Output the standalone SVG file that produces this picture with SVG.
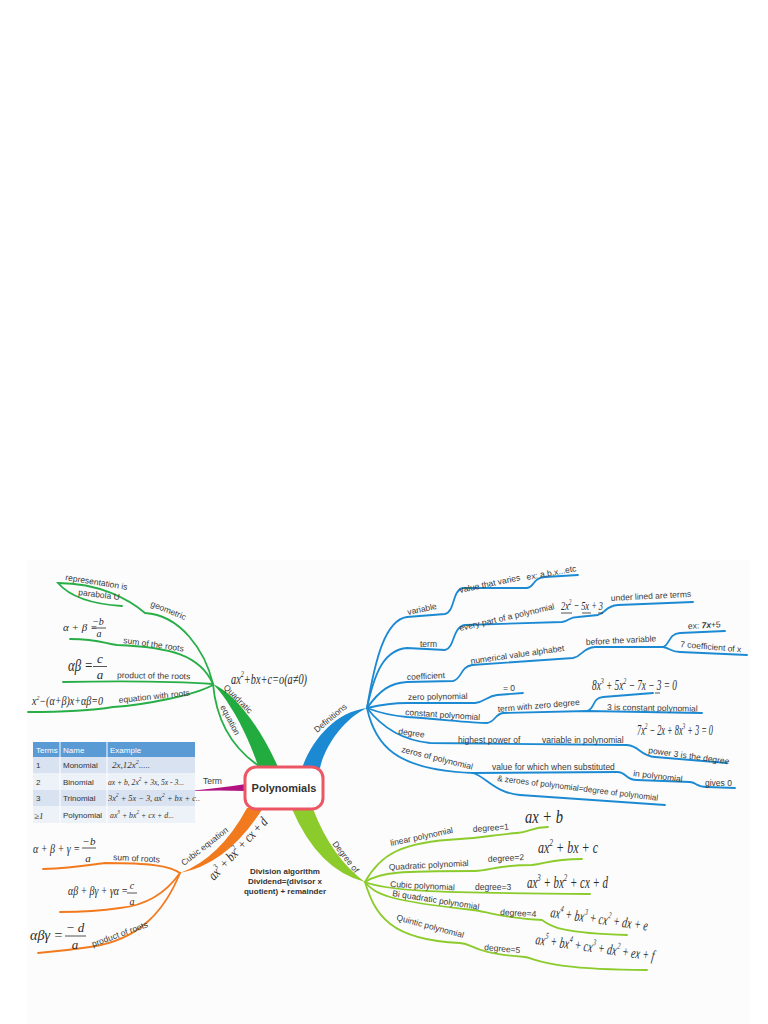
<svg xmlns="http://www.w3.org/2000/svg" width="768" height="1024" viewBox="0 0 768 1024">
<style>
.lbl{font-family:"Liberation Sans",Arial,sans-serif;font-size:8.5px;fill:#3a3a3a}
.fm{font-family:"Liberation Serif","Times New Roman",serif;font-style:italic;fill:#2a2a2a}
.tb{font-family:"Liberation Sans",Arial,sans-serif;font-size:8px;fill:#333}
.th{font-family:"Liberation Sans",Arial,sans-serif;font-size:8px;fill:#fff}
.tf{font-family:"Liberation Serif","Times New Roman",serif;font-style:italic;font-size:9px;fill:#333}
.g{stroke:#27ae47;fill:none;stroke-width:1.8;stroke-linecap:round}
.b{stroke:#1c8ad2;fill:none;stroke-width:1.8;stroke-linecap:round}
.o{stroke:#f27a1e;fill:none;stroke-width:1.8;stroke-linecap:round}
.l{stroke:#8ccb2c;fill:none;stroke-width:1.8;stroke-linecap:round}
.fl{stroke:#2a2a2a;stroke-width:0.8}
</style>
<rect x="0" y="0" width="768" height="1024" fill="#ffffff"/>
<rect x="27" y="560" width="723" height="464" fill="#fcfcfc"/>

<g id="connectors">
  <!-- main thick branches -->
  <path d="M213,684 C226,697 246,728 259,769 L278,767 C258,722 232,692 213,684 Z" fill="#22ab3f"/>
  <path class="g" d="M213,684 Q218,740 262,768"/>
  <path d="M302,768 C312,740 335,712 367,708 C345,718 325,745 320,768 Z" fill="#1c8ad2"/>
  <path d="M247,808 Q220,858 180,873 Q228,864 263,808 Z" fill="#f27a1e"/>
  <path d="M292,809 Q318,870 365,882 Q332,858 313,809 Z" fill="#8ccb2c"/>
  <path d="M246,784 Q220,788 188,791 Q220,790 246,791 Z" fill="#b2127f"/>

  <!-- green sub-branches -->
  <path class="g" d="M213,684 C205,650 180,615 145,613 C130,600 100,583 58,583 C70,597 90,604 122,606"/>
  <path class="g" d="M213,684 C200,655 170,647 117,645 C105,644 100,639 70,639"/>
  <path class="g" d="M213,684 C170,681 120,681 63,682"/>
  <path class="g" d="M213,685 C195,695 145,705 113,707 C95,710 70,712 28,712"/>

  <!-- orange sub-branches -->
  <path class="o" d="M180,873 C170,866 150,863 105,863 C95,864 75,868 43,869"/>
  <path class="o" d="M180,873 C168,890 150,905 120,908 C100,911 80,912 60,912"/>
  <path class="o" d="M180,873 C165,910 140,940 90,947 C70,950 50,952 38,953"/>

  <!-- light green sub-branches -->
  <path class="l" d="M365,882 C380,855 400,842 460,839 C480,838 500,834 517,833 C530,832 532,827 548,827"/>
  <path class="l" d="M365,882 C380,872 400,871 475,871 C490,871 495,865 532,865 C545,864 550,859 582,859"/>
  <path class="l" d="M365,882 C385,890 420,893 590,894"/>
  <path class="l" d="M365,882 C375,895 390,901 473,910 C495,913 500,918 542,920 C550,925 555,933 627,935"/>
  <path class="l" d="M365,882 C375,915 390,940 460,943 C475,944 470,953 525,957 C540,960 545,969 647,970"/>

  <!-- blue sub-branches -->
  <path class="b" d="M367,708 C375,660 385,620 407,617 L445,614 C455,612 452,590 463,588 L527,588 C535,587 532,578 545,577 L578,575"/>
  <path class="b" d="M367,708 C375,670 385,650 407,648 L445,650 C455,648 452,627 465,625 L562,622 C570,621 568,617 578,617 L598,615 C606,613 605,606 618,605 L693,602"/>
  <path class="b" d="M367,708 C380,690 390,683 407,682 L453,681 C462,679 460,667 472,665 L573,658 C583,656 582,648 595,647 L663,647"/>
  <path class="b" d="M663,647 C670,645 668,634 680,633 L725,631"/>
  <path class="b" d="M663,647 C670,648 670,652 680,652 L747,655"/>
  <path class="b" d="M367,708 C380,705 390,703 407,703 L475,703 C485,702 487,696 497,695 L523,693"/>
  <path class="b" d="M367,708 C380,713 395,716 407,717 C440,719 470,723 487,723 C495,722 495,714 503,713 L587,711 L702,713"/>
  <path class="b" d="M587,711 C595,709 592,698 603,697 L653,693"/>
  <path class="b" d="M367,708 C380,725 400,740 430,743 L627,745 C640,746 640,756 655,757 L727,763"/>
  <path class="b" d="M367,708 C375,745 395,770 473,773 L617,772 C627,772 625,780 637,780 L690,782 C698,783 696,787 707,787 L735,788"/>
  <path class="b" d="M473,773 C485,776 495,793 520,795 L665,805"/>
</g>

<g id="node-polynomials">
  <rect x="245" y="767" width="78" height="42" rx="11" fill="#ffffff" stroke="#ec5664" stroke-width="3"/>
  <text x="284" y="792" text-anchor="middle" font-family="Liberation Sans,Arial,sans-serif" font-weight="bold" font-size="11" fill="#333">Polynomials</text>
</g>

<g id="node-quadratic">
  <text class="lbl" font-size="9.5" transform="translate(223,688) rotate(45)">Quadratic</text>
  <text class="lbl" font-size="9.5" transform="translate(220,707) rotate(62)">equation</text>
  <text class="fm" x="231" y="684" font-size="15" textLength="76" lengthAdjust="spacingAndGlyphs">ax<tspan dy="-7" font-size="9">2</tspan><tspan dy="7">+bx+c=o(a≠0)</tspan></text>
</g>
<g id="node-geometric">
  <text class="lbl" transform="translate(150,606) rotate(22)">geometric</text>
  <text class="lbl" transform="translate(65,580) rotate(9)">representation is</text>
  <text class="lbl" transform="translate(78,595) rotate(7)">parabola U</text>
</g>
<g id="node-sum-roots">
  <text class="lbl" transform="translate(123,643) rotate(8)">sum of the roots</text>
  <text class="fm" x="63" y="631" font-size="11">α + β =</text>
  <text class="fm" x="98" y="625" font-size="10" text-anchor="middle">−b</text>
  <line class="fl" x1="92" y1="628" x2="106" y2="628"/>
  <text class="fm" x="99" y="637" font-size="10" text-anchor="middle">a</text>
</g>
<g id="node-product-roots">
  <text class="lbl" transform="translate(117,678) rotate(1)">product of the roots</text>
  <text class="fm" x="68" y="671" font-size="16" textLength="25" lengthAdjust="spacingAndGlyphs">αβ =</text>
  <text class="fm" x="100" y="663" font-size="13" text-anchor="middle">c</text>
  <line class="fl" x1="93" y1="666.5" x2="107" y2="666.5"/>
  <text class="fm" x="100" y="679" font-size="13" text-anchor="middle">a</text>
</g>
<g id="node-eq-roots">
  <text class="lbl" transform="translate(119,703) rotate(-6)">equation with roots</text>
  <text class="fm" x="32" y="705" font-size="12" textLength="71" lengthAdjust="spacingAndGlyphs">x<tspan dy="-5" font-size="7">2</tspan><tspan dy="5">−(α+β)x+αβ=0</tspan></text>
</g>

<g id="node-term">
  <text class="lbl" x="203" y="784" font-size="9">Term</text>
</g>
<g id="node-table">
  <rect x="33" y="742" width="162" height="15" fill="#5b9bd5"/>
  <rect x="33" y="757" width="162" height="16" fill="#d9e2f1"/>
  <rect x="33" y="773" width="162" height="17" fill="#edf1f8"/>
  <rect x="33" y="790" width="162" height="16" fill="#d9e2f1"/>
  <rect x="33" y="806" width="162" height="17" fill="#edf1f8"/>
  <line x1="60" y1="742" x2="60" y2="823" stroke="#ffffff" stroke-width="1"/>
  <line x1="107" y1="742" x2="107" y2="823" stroke="#ffffff" stroke-width="1"/>
  <text class="th" x="36" y="753">Terms</text>
  <text class="th" x="63" y="753">Name</text>
  <text class="th" x="110" y="753">Example</text>
  <text class="tb" x="36" y="768">1</text>
  <text class="tb" x="63" y="768">Monomial</text>
  <text class="tf" x="112" y="768">2x,12x<tspan dy="-4" font-size="6">2</tspan><tspan dy="4">.....</tspan></text>
  <text class="tb" x="36" y="785">2</text>
  <text class="tb" x="63" y="785">Binomial</text>
  <text class="tf" x="108" y="785" textLength="76" lengthAdjust="spacingAndGlyphs">ax + b, 2x<tspan dy="-4" font-size="6">2</tspan><tspan dy="4"> + 3x, 5x - 3...</tspan></text>
  <text class="tb" x="36" y="801">3</text>
  <text class="tb" x="63" y="801">Trinomial</text>
  <text class="tf" x="108" y="801" textLength="92" lengthAdjust="spacingAndGlyphs">3x<tspan dy="-4" font-size="6">2</tspan><tspan dy="4"> + 5x − 3, ax</tspan><tspan dy="-4" font-size="6">2</tspan><tspan dy="4"> + bx + c..</tspan></text>
  <text class="tf" x="34" y="819" font-size="11" font-style="normal">≥1</text>
  <text class="tb" x="63" y="818">Polynomial</text>
  <text class="tf" x="110" y="818" textLength="64" lengthAdjust="spacingAndGlyphs">ax<tspan dy="-4" font-size="6">3</tspan><tspan dy="4"> + bx</tspan><tspan dy="-4" font-size="6">2</tspan><tspan dy="4"> + cx + d...</tspan></text>
</g>

<g id="node-cubic">
  <text class="lbl" font-size="9" transform="translate(184,866) rotate(-38)">Cubic equation</text>
  <text class="fm" font-size="14" textLength="80" lengthAdjust="spacingAndGlyphs" transform="translate(214,881) rotate(-47)">ax<tspan dy="-6" font-size="8">3</tspan><tspan dy="6"> + bx</tspan><tspan dy="-6" font-size="8">2</tspan><tspan dy="6"> + cx + d</tspan></text>
</g>
<g id="node-sum-roots-cubic">
  <text class="lbl" transform="translate(113,860) rotate(3)">sum of roots</text>
  <text class="fm" x="33" y="853" font-size="12" textLength="47" lengthAdjust="spacingAndGlyphs">α + β + γ =</text>
  <text class="fm" x="89" y="845" font-size="11" text-anchor="middle">−b</text>
  <line class="fl" x1="82" y1="848" x2="96" y2="848"/>
  <text class="fm" x="88" y="862" font-size="11" text-anchor="middle">a</text>
</g>
<g id="node-pairs-cubic">
  <text class="fm" x="68" y="895" font-size="12" textLength="60" lengthAdjust="spacingAndGlyphs">αβ + βγ + γα =</text>
  <text class="fm" x="132" y="889" font-size="10" text-anchor="middle">c</text>
  <line class="fl" x1="127" y1="893" x2="137" y2="893"/>
  <text class="fm" x="132" y="905" font-size="10" text-anchor="middle">a</text>
</g>
<g id="node-product-cubic">
  <text class="lbl" transform="translate(93,947) rotate(-20)">product of roots</text>
  <text class="fm" x="30" y="940" font-size="15" textLength="33" lengthAdjust="spacingAndGlyphs">αβγ =</text>
  <text class="fm" x="75" y="932" font-size="13" text-anchor="middle">− d</text>
  <line class="fl" x1="65" y1="936" x2="86" y2="936"/>
  <text class="fm" x="75" y="949" font-size="13" text-anchor="middle">a</text>
</g>

<g id="node-division">
  <text x="285" y="874" text-anchor="middle" font-family="Liberation Sans,Arial,sans-serif" font-weight="bold" font-size="8" fill="#333">Division algorithm</text>
  <text x="285" y="884" text-anchor="middle" font-family="Liberation Sans,Arial,sans-serif" font-weight="bold" font-size="8" fill="#333">Dividend=(divisor x</text>
  <text x="285" y="894" text-anchor="middle" font-family="Liberation Sans,Arial,sans-serif" font-weight="bold" font-size="8" fill="#333">quotient) + remainder</text>
</g>

<g id="node-degree">
  <text class="lbl" font-size="9.5" transform="translate(332,844) rotate(52)">Degree of</text>
</g>
<g id="node-linear">
  <text class="lbl" transform="translate(391,846) rotate(-12)">linear polynomial</text>
  <text class="lbl" transform="translate(473,832) rotate(-4)">degree=1</text>
  <text class="fm" x="525" y="823" font-size="18" textLength="38" lengthAdjust="spacingAndGlyphs">ax + b</text>
</g>
<g id="node-quadpoly">
  <text class="lbl" transform="translate(389,870) rotate(-3)">Quadratic polynomial</text>
  <text class="lbl" transform="translate(488,862) rotate(-3)">degree=2</text>
  <text class="fm" x="538" y="853" font-size="16" textLength="60" lengthAdjust="spacingAndGlyphs">ax<tspan dy="-7" font-size="10">2</tspan><tspan dy="7"> + bx + c</tspan></text>
</g>
<g id="node-cubicpoly">
  <text class="lbl" transform="translate(390,887) rotate(3)">Cubic polynomial</text>
  <text class="lbl" transform="translate(475,890)">degree=3</text>
  <text class="fm" x="527" y="888" font-size="16" textLength="81" lengthAdjust="spacingAndGlyphs">ax<tspan dy="-7" font-size="10">3</tspan><tspan dy="7"> + bx</tspan><tspan dy="-7" font-size="10">2</tspan><tspan dy="7"> + cx + d</tspan></text>
</g>
<g id="node-biquad">
  <text class="lbl" transform="translate(392,896) rotate(9)">Bi quadratic polynomial</text>
  <text class="lbl" transform="translate(500,915) rotate(3)">degree=4</text>
  <text class="fm" font-size="15" textLength="98" lengthAdjust="spacingAndGlyphs" transform="translate(550,917) rotate(8)">ax<tspan dy="-7" font-size="9">4</tspan><tspan dy="7"> + bx</tspan><tspan dy="-7" font-size="9">3</tspan><tspan dy="7"> + cx</tspan><tspan dy="-7" font-size="9">2</tspan><tspan dy="7"> + dx + e</tspan></text>
</g>
<g id="node-quintic">
  <text class="lbl" transform="translate(396,920) rotate(15)">Quintic polynomial</text>
  <text class="lbl" transform="translate(484,950) rotate(5)">degree=5</text>
  <text class="fm" font-size="15" textLength="120" lengthAdjust="spacingAndGlyphs" transform="translate(535,944) rotate(8)">ax<tspan dy="-7" font-size="9">5</tspan><tspan dy="7"> + bx</tspan><tspan dy="-7" font-size="9">4</tspan><tspan dy="7"> + cx</tspan><tspan dy="-7" font-size="9">3</tspan><tspan dy="7"> + dx</tspan><tspan dy="-7" font-size="9">2</tspan><tspan dy="7"> + ex + f</tspan></text>
</g>

<g id="node-definitions">
  <text class="lbl" font-size="10" transform="translate(317,733) rotate(-40)">Definitions</text>
</g>
<g id="node-variable">
  <text class="lbl" transform="translate(408,615) rotate(-12)">variable</text>
  <text class="lbl" transform="translate(460,593) rotate(-12)">value that varies</text>
  <text class="lbl" transform="translate(527,580) rotate(-10)">ex: a,b,x...etc</text>
</g>
<g id="node-termdef">
  <text class="lbl" transform="translate(420,647)">term</text>
  <text class="lbl" transform="translate(460,631) rotate(-13)">every part of a polynomial</text>
  <text class="fm" x="561" y="610" font-size="13" textLength="42" lengthAdjust="spacingAndGlyphs">2x<tspan dy="-5" font-size="8">2</tspan><tspan dy="5"> − 5x + 3</tspan></text>
  <line x1="561" y1="613" x2="572" y2="613" stroke="#2a2a2a" stroke-width="0.8"/>
  <line x1="582" y1="613" x2="591" y2="613" stroke="#2a2a2a" stroke-width="0.8"/>
  <line x1="598" y1="613" x2="603" y2="613" stroke="#2a2a2a" stroke-width="0.8"/>
  <text class="lbl" transform="translate(611,601) rotate(-3)">under lined are terms</text>
</g>
<g id="node-coefficient">
  <text class="lbl" transform="translate(407,680) rotate(-3)">coefficient</text>
  <text class="lbl" transform="translate(471,664) rotate(-8)">numerical value alphabet</text>
  <text class="lbl" transform="translate(586,645) rotate(-3)">before the variable</text>
  <text class="lbl" transform="translate(688,629) rotate(-3)">ex: <tspan font-weight="bold" font-style="italic">7x</tspan>+5</text>
  <text class="lbl" transform="translate(680,647) rotate(5)">7 coefficient of x</text>
</g>
<g id="node-zero">
  <text class="lbl" transform="translate(408,700) rotate(-1)">zero polynomial</text>
  <text class="lbl" transform="translate(503,691)">= 0</text>
</g>
<g id="node-constant">
  <text class="lbl" transform="translate(405,715) rotate(4)">constant polynomial</text>
  <text class="lbl" transform="translate(498,712) rotate(-5)">term with zero degree</text>
  <text class="fm" x="592" y="690" font-size="14" textLength="85" lengthAdjust="spacingAndGlyphs">8x<tspan dy="-6" font-size="9">3</tspan><tspan dy="6"> + 5x</tspan><tspan dy="-6" font-size="9">2</tspan><tspan dy="6"> − 7x − 3 = 0</tspan></text>
  <line x1="655" y1="693" x2="660" y2="693" stroke="#2a2a2a" stroke-width="0.8"/>
  <text class="lbl" transform="translate(607,710) rotate(1)">3 is constant polynomial</text>
</g>
<g id="node-degreedef">
  <text class="lbl" transform="translate(398,734) rotate(8)">degree</text>
  <text class="lbl" transform="translate(458,743)">highest power of</text>
  <text class="lbl" transform="translate(542,743)">variable in polynomial</text>
  <text class="fm" x="637" y="735" font-size="14" textLength="76" lengthAdjust="spacingAndGlyphs">7x<tspan dy="-6" font-size="9">2</tspan><tspan dy="6"> − 2x + 8x</tspan><tspan dy="-6" font-size="9">3</tspan><tspan dy="6"> + 3 = 0</tspan></text>
  <text class="lbl" transform="translate(648,753) rotate(8)">power 3 is the degree</text>
</g>
<g id="node-zeros">
  <text class="lbl" transform="translate(401,752) rotate(14)">zeros of polynomial</text>
  <text class="lbl" transform="translate(492,770)">value for which when substituted</text>
  <text class="lbl" transform="translate(633,776) rotate(7)">in polynomial</text>
  <text class="lbl" transform="translate(705,786)">gives 0</text>
  <text class="lbl" textLength="162" lengthAdjust="spacingAndGlyphs" transform="translate(497,781) rotate(7)">&amp; zeroes of polynomial=degree of polynomial</text>
</g>
</svg>
